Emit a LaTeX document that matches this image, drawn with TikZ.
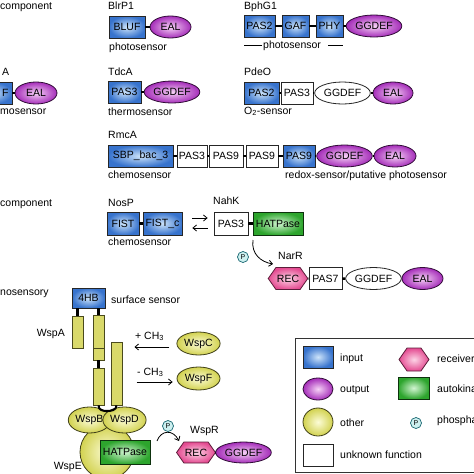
\documentclass[tikz,border=0pt]{standalone}
\usepackage{fontspec}
\setmainfont{Liberation Sans}
\usepackage{tikz}
\usetikzlibrary{arrows.meta,calc,shapes.geometric,shapes.symbols}
\definecolor{inputblue}{RGB}{55,115,205}
\definecolor{inputlight}{RGB}{205,228,250}
\definecolor{outputpurple}{RGB}{165,45,185}
\definecolor{outputlight}{RGB}{246,210,246}
\definecolor{otheryellow}{RGB}{210,210,80}
\definecolor{otherlight}{RGB}{252,252,215}
\definecolor{kinasegreen}{RGB}{45,165,45}
\definecolor{kinaselight}{RGB}{210,245,210}
\definecolor{receiverpink}{RGB}{228,75,145}
\definecolor{receiverlight}{RGB}{252,212,230}
\definecolor{phosfill}{RGB}{205,240,240}
\definecolor{phosline}{RGB}{20,100,110}
\newcommand\domfont{\fontsize{10.5}{12}\selectfont}

\tikzset{
  protdomain/.style={draw=black!85, line width=0.8pt, inner sep=1pt, minimum height=22pt},
  input/.style={protdomain, rectangle, inner color=inputlight, outer color=inputblue},
  unknown/.style={protdomain, rectangle, fill=white},
  output/.style={protdomain, ellipse, draw=black!70!outputpurple, inner color=outputlight, outer color=outputpurple},
  unknownoval/.style={protdomain, ellipse, fill=white},
  other/.style={protdomain, ellipse, draw=black!70!otheryellow, inner color=otherlight, outer color=otheryellow},
  kinase/.style={protdomain, rectangle, draw=black!70!kinasegreen, inner color=kinaselight, outer color=kinasegreen},
  receiver/.style={protdomain, signal, signal to=east and west, signal pointer angle=110,
    draw=black!60!receiverpink, inner color=receiverlight, outer color=receiverpink},
  rod/.style={rectangle, draw=black!65!otheryellow, fill=otheryellow!85!white, line width=0.7pt,
    inner sep=0pt, minimum width=11pt},
  phos/.style={circle, draw=phosline, fill=phosfill, line width=0.7pt, inner sep=0pt,
    minimum size=11pt, font=\fontsize{7}{8}\selectfont},
  link/.style={black, line width=2.5pt},
  reaction/.style={line width=0.8pt, -{Straight Barb[length=3.5pt,width=6pt]}},
  lbl/.style={inner sep=0pt, anchor=base west}
}

\begin{document}
\begin{tikzpicture}[x=1pt, y=-1pt, font=\domfont]
    \useasboundingbox (0,0) rectangle (474,474);
    \clip (0,0) rectangle (474,474);

    % one-component, first rows
    \node[lbl] (compOne) at (0,9) {component};
    \node[lbl] (blrpName) at (108,9) {BlrP1};
    \node[input, minimum width=36pt] (blrpBLUF) at (127,27) {BLUF};
    \node[output, minimum width=41pt] (blrpEAL) at (170.5,27) {EAL};
    \draw[link] (blrpBLUF) -- (blrpEAL);
    \node[lbl] (blrpSensor) at (109,50) {photosensor};

    \node[lbl] (bphName) at (244,9) {BphG1};
    \node[input, minimum width=31pt] (bphPAS) at (259.5,26) {PAS2};
    \node[input, minimum width=27pt] (bphGAF) at (295.5,26) {GAF};
    \node[input, minimum width=27pt] (bphPHY) at (329.5,26) {PHY};
    \node[output, minimum width=52pt] (bphGGDEF) at (374,26) {GGDEF};
    \draw[link] (bphPAS) -- (bphGAF) (bphGAF) -- (bphPHY) (bphPHY) -- (bphGGDEF);
    \node[lbl] (bphSensor) at (263,48) {photosensor};
    \draw[line width=0.6pt] ([xshift=-1pt]bphSensor.west) -- ++(-18,0);
    \draw[line width=0.6pt] ([xshift=7pt]bphSensor.east) -- ++(15,0);

    % second row
    \node[lbl] (cutName) at (2,75) {A};
    \node[input, minimum width=40pt, text width=33pt, align=right] (cutIn) at (-8,93) {F};
    \node[output, minimum width=42pt] (cutEAL) at (36,93) {EAL};
    \draw[link] (cutIn) -- (cutEAL);
    \node[lbl] (cutSensor) at (0,114) {mosensor};

    \node[lbl] (tdcName) at (108,75) {TdcA};
    \node[input, minimum width=33pt] (tdcPAS) at (124.5,92) {PAS3};
    \node[output, minimum width=50pt] (tdcGGDEF) at (172,92) {GGDEF};
    \draw[link] (tdcPAS) -- (tdcGGDEF);
    \node[lbl] (tdcSensor) at (108,115) {thermosensor};

    \node[lbl] (pdeName) at (244,75) {PdeO};
    \node[input, minimum width=35pt] (pdePAS) at (261.5,93) {PAS2};
    \node[unknown, minimum width=32pt] (pdePASb) at (297,93) {PAS3};
    \node[unknownoval, minimum width=51pt] (pdeGGDEF) at (342.5,93) {GGDEF};
    \node[output, minimum width=40pt] (pdeEAL) at (393,93) {EAL};
    \draw[link] (pdePAS) -- (pdePASb) (pdePASb) -- (pdeGGDEF) (pdeGGDEF) -- (pdeEAL);
    \node[lbl] (pdeSensor) at (244,114) {O\textsubscript{2}-sensor};

    % RmcA
    \node[lbl] (rmcName) at (108,138) {RmcA};
    \node[input, minimum width=65pt] (rmcSBP) at (140.5,156) {SBP\_bac\_3};
    \node[unknown, minimum width=30pt] (rmcPAS) at (192,156) {PAS3};
    \node[unknown, minimum width=34pt] (rmcPASa) at (226,156) {PAS9};
    \node[unknown, minimum width=32pt] (rmcPASb) at (262,156) {PAS9};
    \node[input, minimum width=32pt] (rmcPASc) at (299,156) {PAS9};
    \node[output, minimum width=53pt] (rmcGGDEF) at (344.5,156) {GGDEF};
    \node[output, minimum width=42pt] (rmcEAL) at (395,156) {EAL};
    \draw[link] (rmcSBP) -- (rmcPAS) (rmcPAS) -- (rmcPASa) (rmcPASa) -- (rmcPASb)
      (rmcPASb) -- (rmcPASc) (rmcPASc) -- (rmcGGDEF) (rmcGGDEF) -- (rmcEAL);
    \node[lbl] (rmcSensor) at (108,178) {chemosensor};
    \node[lbl] (rmcSensorb) at (285,178) {redox-sensor/putative photosensor};

    % two-component
    \node[lbl] (compTwo) at (0,206) {component};
    \node[lbl] (nosName) at (108,206) {NosP};
    \node[input, minimum width=32pt, minimum height=23pt] (nosFIST) at (123,223.5) {FIST};
    \node[input, minimum width=39pt, minimum height=23pt] (nosFISTc) at (162.5,223.5) {FIST\_c};
    \draw[link] (nosFIST) -- (nosFISTc);
    \node[lbl] (nosSensor) at (108,245) {chemosensor};

    \node[lbl] (nahName) at (213,204) {NahK};
    \node[unknown, minimum width=34pt, minimum height=23pt] (nahPAS) at (231,223.5) {PAS3};
    \node[kinase, minimum width=50pt, minimum height=23pt] (nahHAT) at (278,223.5) {HATPase};
    \draw[link] (nahPAS) -- (nahHAT);
    \draw[reaction] ($(nosFISTc.east)+(10,-5.5)$) -- ($(nahPAS.west)+(-6,-5.5)$);
    \draw[reaction] ($(nahPAS.west)+(-6,4.5)$) -- ($(nosFISTc.east)+(10,4.5)$);

    \coordinate (narFrom) at (253,240);
    \coordinate (narTo) at (273,264);
    \draw[reaction] (narFrom) .. controls (251,254) and (261,262) .. (narTo);
    \node[phos] (narP) at (243,257) {P};
    \node[lbl] (narName) at (278,259) {NarR};
    \node[receiver, minimum width=36pt] (narREC) at (288,278.5) {REC};
    \node[unknown, minimum width=33pt] (narPAS) at (325.5,278.5) {PAS7};
    \node[unknownoval, minimum width=53pt] (narGGDEF) at (373.5,278.5) {GGDEF};
    \node[output, minimum width=41pt] (narEAL) at (422.5,278.5) {EAL};
    \draw[link] (narREC) -- (narPAS) (narPAS) -- (narGGDEF) (narGGDEF) -- (narEAL);

    % chemosensory Wsp system
    \node[lbl] (compChemo) at (0,295) {nosensory};
    \node[input, minimum width=33pt, minimum height=20pt] (wspHB) at (88.5,298) {4HB};
    \node[lbl] (wspSurface) at (111,303) {surface sensor};

    \node[rod, minimum height=32pt] (rodA) at (77.5,332) {};
    \node[rod, minimum height=33pt] (rodB) at (98.5,331.5) {};
    \node[rod, minimum height=12pt] (rodBb) at (98.5,354) {};
    \node[rod, minimum height=37pt] (rodBc) at (98.5,386.5) {};
    \node[rod, minimum height=63pt] (rodC) at (116.5,373.5) {};
    \draw[link] (rodA.north |- wspHB.south) -- (rodA.north);
    \draw[link] (rodB.north |- wspHB.south) -- (rodB.north);
    \draw[link] (rodBb) -- (rodBc);
    \node[lbl, anchor=base east] (wspAName) at (65,336) {WspA};

    \node[other, circle, minimum size=54pt] (wspE) at (107,452) {};
    \node[other, minimum width=35pt, minimum height=26pt] (wspB) at (89.5,420) {WspB};
    \node[other, minimum width=37pt, minimum height=26pt] (wspD) at (124.5,420) {WspD};
    \coordinate (wspJoin) at (107,411);
    \draw[link, line width=2pt] (rodBc.south) .. controls +(0,5) and +(-4,0) .. (wspJoin)
      .. controls +(4,0) and +(0,5) .. (rodC.south);
    \node[kinase, minimum width=50pt, minimum height=24pt] (wspHAT) at (125,452) {HATPase};
    \node[lbl, anchor=base east] (wspEName) at (82,469) {WspE};

    \node[other, minimum width=43pt, minimum height=23pt] (wspC) at (198.5,343.5) {WspC};
    \node[other, minimum width=43pt, minimum height=23pt] (wspF) at (198.5,378.5) {WspF};
    \node[lbl] (plusMe) at (135,339) {+ CH\textsubscript{3}};
    \node[lbl] (minusMe) at (137,375) {- CH\textsubscript{3}};
    \draw[reaction] ($(wspC.west)+(-7,3.5)$) -- ++(-35,0);
    \draw[reaction] ($(wspF.west)+(-40,3.5)$) -- ++(36,0);

    \coordinate (wspFrom) at (157,441);
    \coordinate (wspTo) at (179,441);
    \draw[reaction] (wspFrom) .. controls (161,430) and (173,429) .. (wspTo);
    \node[phos] (wspP) at (168,426) {P};
    \node[lbl] (wspRName) at (190,433) {WspR};
    \node[receiver, minimum width=34pt, minimum height=21pt] (wspREC) at (196,452.5) {REC};
    \node[output, minimum width=55pt, minimum height=21pt] (wspGGDEF) at (243.5,452.5) {GGDEF};
    \draw[link] (wspREC) -- (wspGGDEF);

    % legend
    \draw[black!80, line width=1pt] (295,338) rectangle (490,472);
    \node[input, minimum width=30pt] (keyInput) at (318,357) {};
    \node[lbl] at (340,361) {input};
    \node[output, minimum width=30pt] (keyOutput) at (318,389) {};
    \node[lbl] at (340,392) {output};
    \node[other, minimum width=30pt, minimum height=28pt] (keyOther) at (318,422) {};
    \node[lbl] at (340,426) {other};
    \node[unknown, minimum width=30pt] (keyUnknown) at (318,455) {};
    \node[lbl] at (340,458) {unknown function};
    \node[receiver, minimum width=30pt, minimum height=23pt] (keyReceiver) at (414,359.5) {};
    \node[lbl] at (437,362) {receiver};
    \node[kinase, minimum width=31pt] (keyKinase) at (413.5,388) {};
    \node[lbl] at (437,392) {autokinase};
    \node[phos] (keyP) at (416,423) {P};
    \node[lbl] at (437,423) {phosphate};
\end{tikzpicture}
\end{document}
